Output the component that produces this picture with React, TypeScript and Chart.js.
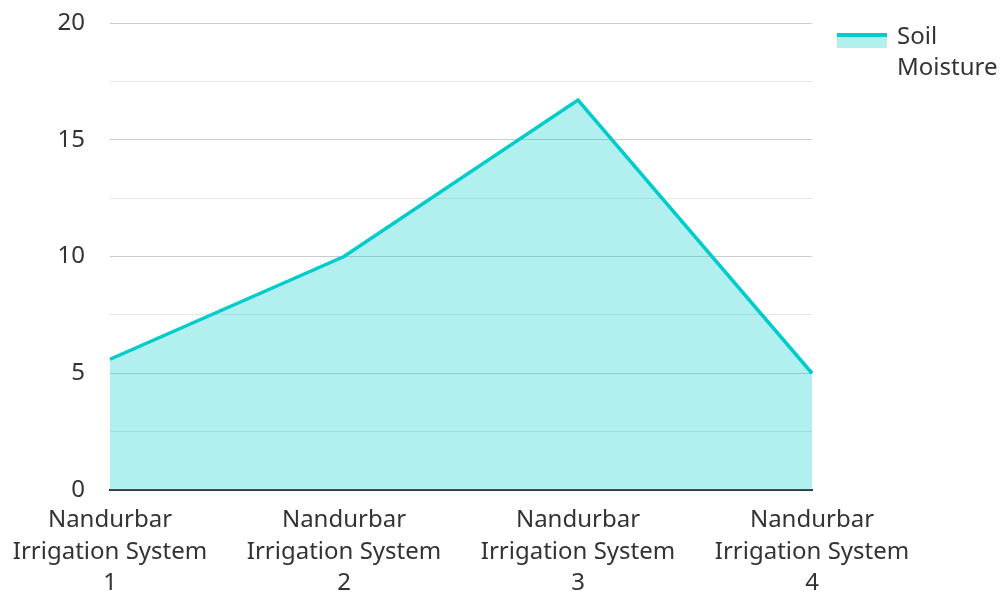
import React, { useEffect, useRef } from "react";
import { Chart, registerables } from "chart.js";

Chart.register(...registerables);

const categories: string[][] = [
  ["Nandurbar", "Irrigation System", "1"],
  ["Nandurbar", "Irrigation System", "2"],
  ["Nandurbar", "Irrigation System", "3"],
  ["Nandurbar", "Irrigation System", "4"],
];
const soilMoisture: number[] = [5.6, 10, 16.7, 5.0];
const seriesLabel = "Soil Moisture";
const legendLines: string[] = ["Soil", "Moisture"];

const LINE = "#00cccc";
const FILL = "rgba(0,204,204,0.3)";
const SWATCH_FILL = "#b2efef";
const TEXT = "#333333";
const FONT = "'Noto Sans'";

const legendPlugin = {
  id: "sideLegend",
  afterDraw(chart: any) {
    const ctx = chart.ctx as CanvasRenderingContext2D;
    const area = chart.chartArea;
    const x0 = area.right + 25;
    const y0 = area.top + 10;
    ctx.save();
    ctx.fillStyle = SWATCH_FILL;
    ctx.fillRect(x0, y0, 50, 15);
    ctx.fillStyle = LINE;
    ctx.fillRect(x0, y0, 50, 4);
    ctx.fillStyle = TEXT;
    ctx.font = `24px ${FONT}`;
    ctx.textBaseline = "alphabetic";
    ctx.textAlign = "left";
    legendLines.forEach((line, i) => {
      ctx.fillText(line, x0 + 60, area.top + 21 + i * 31);
    });
    ctx.restore();
  },
};

export default function App() {
  const ref = useRef<HTMLCanvasElement>(null);
  useEffect(() => {
    document.body.style.margin = "0";
    const chart = new Chart(ref.current!, {
      type: "line",
      data: {
        labels: categories,
        datasets: [
          {
            label: seriesLabel,
            data: soilMoisture,
            borderColor: LINE,
            backgroundColor: FILL,
            borderWidth: 3.5,
            fill: "origin",
            pointRadius: 0,
            tension: 0,
          },
        ],
      },
      plugins: [legendPlugin],
      options: {
        animation: false,
        responsive: false,
        maintainAspectRatio: false,
        layout: { padding: { top: 23, right: 190, left: 0, bottom: 0 } },
        plugins: {
          tooltip: { enabled: false },
          legend: { display: false },
        },
        scales: {
          x: {
            offset: false,
            grid: { display: false, drawTicks: false },
            border: { display: true, color: "#333", width: 2 },
            afterFit: (s: any) => {
              s.height = 104;
              s.paddingLeft = 0;
              s.paddingRight = 0;
            },
            ticks: {
              color: TEXT,
              maxRotation: 0,
              autoSkip: false,
              padding: 15,
              font: { family: FONT, size: 24, lineHeight: 1.3 },
            },
          },
          y: {
            min: 0,
            max: 20,
            border: { display: false },
            afterFit: (s: any) => {
              s.width = 110;
              s.paddingTop = 0;
              s.paddingBottom = 0;
            },
            grid: {
              drawTicks: false,
              color: (ctx: any) =>
                ctx.tick && ctx.tick.value % 5 === 0 ? "#cccccc" : "#e6e6e6",
              lineWidth: 1,
            },
            ticks: {
              stepSize: 2.5,
              color: TEXT,
              padding: 25,
              font: { family: FONT, size: 24 },
              callback: (v: any) => (Number(v) % 5 === 0 ? String(v) : ""),
            },
          },
        },
      },
    });
    return () => chart.destroy();
  }, []);
  return <canvas ref={ref} width={1002} height={594} style={{ display: "block" }} />;
}
